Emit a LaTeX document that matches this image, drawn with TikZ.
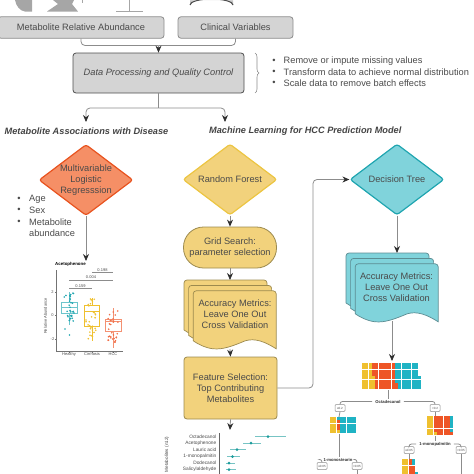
\documentclass[tikz,border=0pt]{standalone}
\usepackage{fontspec}
\setmainfont{Liberation Sans}
\usepackage{xcolor}
\usetikzlibrary{arrows.meta,calc,shapes.geometric,decorations.pathreplacing}
\definecolor{txtgray}{HTML}{4A4A4A}
\definecolor{linegray}{HTML}{8C8C8C}
\definecolor{boxgray}{HTML}{D4D4D4}
\definecolor{headdark}{HTML}{2F2F2F}
\definecolor{lrfill}{HTML}{F58F66}
\definecolor{lrdraw}{HTML}{E8531F}
\definecolor{rffill}{HTML}{F2D27C}
\definecolor{rfdraw}{HTML}{ECC542}
\definecolor{rfedge}{HTML}{9C8A4E}
\definecolor{dtfill}{HTML}{80D3DB}
\definecolor{dtdraw}{HTML}{1FA5B0}
\definecolor{dtedge}{HTML}{5C8C92}
\definecolor{wafyel}{HTML}{EFC02F}
\definecolor{wafred}{HTML}{EE5526}
\definecolor{wafteal}{HTML}{1FB3C4}
\definecolor{dotteal}{HTML}{1C9C9C}

% waffle block: left, top, rows, yellow, red, teal cells
\newcommand{\waffle}[6]{%
  \pgfmathtruncatemacro\waftotal{#4+#5+#6}
  \foreach \n in {1,...,\waftotal}{
    \pgfmathtruncatemacro\wafcol{int((\n-1)/#3)}
    \pgfmathtruncatemacro\wafrow{#3-1-mod(\n-1,#3)}
    \pgfmathtruncatemacro\wafa{#4}
    \pgfmathtruncatemacro\wafb{#4+#5}
    \def\wafcolor{wafteal}
    \ifnum\n>\wafb\else\def\wafcolor{wafred}\fi
    \ifnum\n>\wafa\else\def\wafcolor{wafyel}\fi
    \fill[\wafcolor] ({#1+\wafcol*3.3},{#2+\wafrow*3.3}) rectangle ++(3.05,3.05);
  }}
% three stacked sheets with a wavy foot: left, top, fill, edge
\newcommand{\docstack}[4]{%
  \foreach \kx/\ky in {0/0,4.6/5.4,9.2/10.8}{
    \draw[#4,fill=#3,line width=.7pt,rounded corners=3pt]
      ({#1+\kx},{#2+\ky+50}) -- ({#1+\kx},{#2+\ky}) -- ({#1+\kx+83},{#2+\ky})
      [sharp corners] -- ({#1+\kx+83},{#2+\ky+58})
      .. controls ({#1+\kx+72},{#2+\ky+51}) and ({#1+\kx+62},{#2+\ky+47}) .. ({#1+\kx+52},{#2+\ky+50})
      .. controls ({#1+\kx+40},{#2+\ky+55}) and ({#1+\kx+30},{#2+\ky+59}) .. ({#1+\kx+20},{#2+\ky+58})
      .. controls ({#1+\kx+12},{#2+\ky+57}) and ({#1+\kx+6},{#2+\ky+54}) .. ({#1+\kx},{#2+\ky+50});
  }}
% jittered points of one box: centre, top, bottom, colour
\newcommand{\swarm}[4]{%
  \foreach \i in {1,...,30}{
    \fill[#4] ({#1+5*rand},{(#2+#3)/2+(#3-#2)/2*rand}) circle (.9);
  }}

\begin{document}
\begin{tikzpicture}[x=1pt,y=-1pt,
    every node/.style={text=txtgray,font=\fontsize{9.25}{11.2}\selectfont},
    inbox/.style={rectangle,rounded corners=3pt,draw=linegray,fill=boxgray,line width=.8pt,inner sep=0},
    qcbox/.style={rectangle,rounded corners=3pt,draw=headdark!85,fill=boxgray,line width=.8pt,inner sep=0,
                  minimum width=171pt,minimum height=40pt,font=\fontsize{9.25}{11.2}\itshape},
    heading/.style={font=\fontsize{9.2}{11}\bfseries\itshape,text=headdark!90,inner sep=0},
    choice/.style={diamond,rounded corners=2.5pt,line width=1.2pt,inner sep=0,aspect=1.3,
                   minimum width=94pt,minimum height=71pt,align=center},
    stepbox/.style={rectangle,rounded corners=3pt,draw=rfedge,fill=rffill,line width=.8pt,inner sep=0,
                    minimum width=93pt,minimum height=62pt,align=center},
    stadium/.style={rectangle,rounded corners=20pt,draw=rfedge,fill=rffill,line width=.8pt,inner sep=0,
                    minimum width=93pt,minimum height=41pt,align=center},
    conn/.style={draw=linegray,line width=.8pt,rounded corners=4pt},
    arrow/.style={conn,-{Stealth[length=7pt,width=6pt,color=headdark]}},
    plain/.style={align=center,inner sep=0},
    tiny/.style={font=\fontsize{4}{5}\selectfont,inner sep=0,text=txtgray},
    split/.style={font=\fontsize{4.2}{5}\bfseries,inner ysep=.6pt,inner xsep=3pt,fill=white,text=headdark},
    cond/.style={rectangle,rounded corners=1pt,draw=linegray,fill=white,line width=.5pt,inner sep=0,
                 minimum width=10pt,minimum height=7pt,font=\fontsize{3}{4}\selectfont},
    thin/.style={draw=linegray,line width=.8pt,rounded corners=2.5pt},
  ]
  \useasboundingbox (0,0) rectangle (474,474);
  \clip (0,0) rectangle (474,474);

  % source icons, cut by the top edge
  \fill[black!35] (15,0) .. controls (16,6) and (20,11) .. (25,11.5) -- (32,11.5) -- (32,0) -- cycle;
  \fill[black!35] (53,0) -- (58,4) -- (47,11.5) -- (78,11.5) -- (72,4) -- (74,0) -- cycle;
  \draw[black!35,line width=.8pt] (82,0) -- (82,3);
  \draw[black!35,line width=.8pt] (129,0) -- (129,11.5) (116,11.5) -- (143,11.5);
  \shade[top color=black!12,bottom color=black!45] (190,0) -- (190,5) arc[start angle=180,end angle=360,x radius=21.5,y radius=6] -- (233,0) -- cycle;
  \draw[black!70,line width=1pt] (190,5) arc[start angle=180,end angle=360,x radius=21.5,y radius=6];

  % inputs and processing
  \node[inbox,minimum width=166pt,minimum height=21.5pt] (abund) at (81,27.5) {Metabolite Relative Abundance};
  \node[inbox,minimum width=115pt,minimum height=21.5pt] (clinvar) at (235.5,27.5) {Clinical Variables};
  \node[qcbox] (dpqc) at (158.5,73) {Data Processing and Quality Control};
  \coordinate (merge) at (158.5,45.5);
  \draw[conn] (abund.south) |- (merge);
  \draw[conn] (clinvar.south) |- (merge);
  \draw[arrow] (merge) -- (dpqc.north);

  \coordinate (bracea) at (255,53);
  \coordinate (braceb) at (255,93);
  \draw[linegray,line width=.6pt,decorate,decoration={brace,amplitude=4pt}] (bracea) -- (braceb);
  \foreach \y/\txt [count=\c] in {61/Remove or impute missing values,72/Transform data to achieve normal distribution,83/Scale data to remove batch effects}{
    \node[inner sep=0] (qcdot\c) at (274,\y) {•};
    \node[anchor=west,inner sep=0] (qcitem\c) at (283.5,\y) {\txt};
  }

  \node[heading,anchor=west] (assoc) at (4.5,131) {Metabolite Associations with Disease};
  \node[heading,anchor=west] (mlhead) at (209,131) {Machine Learning for HCC Prediction Model};

  % left column
  \node[choice,draw=lrdraw,fill=lrfill] (logreg) at (86,180) {Multivariable\\Logistic\\Regresssion};
  \coordinate (splitq) at (158.5,108);
  \draw[conn] (dpqc.south) -- (splitq);
  \draw[arrow] (splitq) -| (86,122);
  \draw[arrow] (splitq) -| (225,122);

  \foreach \y/\txt [count=\c] in {199/Age,210/Sex,222/Metabolite}{
    \node[inner sep=0] (covdot\c) at (19,\y) {•};
    \node[anchor=west,inner sep=0] (cov\c) at (29,\y) {\txt};
  }
  \node[anchor=west,inner sep=0] (cov4) at (29,233) {abundance};

  \coordinate (plotin) at (86,261);
  \draw[arrow] (logreg.south) -- (plotin);

  % box plot
  \node[tiny,font=\fontsize{4.4}{5}\bfseries,text=black] (boxtitle) at (70.5,264.5) {Acetophenone};
  \draw[black!55,line width=.6pt] (56.5,270) -- (56.5,351) -- (123,351);
  \foreach \y/\lab in {292/2,315/0,339/-2}{
    \draw[black!55,line width=.4pt] (55,\y) -- (56.5,\y);
    \node[tiny] (ytick\lab) at (52.5,\y) {\lab};
  }
  \node[tiny,rotate=90] (ylab) at (45.5,316) {Relative Abundance};
  \foreach \x/\lab in {69/Healthy,92/Cirrhosis,113/HCC}{
    \draw[black!55,line width=.4pt] (\x,351) -- (\x,352.5);
    \node[tiny] (xtick\lab) at (\x,354.5) {\lab};
  }
  \pgfmathsetseed{11}
  \draw[dtdraw!65,line width=.4pt] (61.5,302) rectangle (77,313) (61.5,307) -- (77,307) (69,292) -- (69,302) (69,313) -- (69,325);
  \swarm{69}{292}{323}{dtdraw}
  \fill[dtdraw] (65,329) circle (.9) (69.5,335) circle (.9);
  \draw[wafyel,line width=.4pt] (84,305.5) rectangle (99,326) (84,311) -- (99,311) (92,298) -- (92,305.5) (92,326) -- (92,341);
  \swarm{91}{299}{340}{wafyel}
  \draw[wafred!65,line width=.4pt] (105,319) rectangle (121,331) (105,321) -- (121,321) (113,308) -- (113,319) (113,331) -- (113,348);
  \swarm{113}{310}{346}{wafred!85}
  \foreach \ya/\xa/\xb/\lab in {288.5/69/92/0.159,280/69/113/0.004,272.5/92/113/0.198}{
    \draw[black!45,line width=.4pt] (\xa,\ya) -- (\xb,\ya);
    \node[tiny,fill=white,inner sep=.3pt] (pval\lab) at ({(\xa+\xb)/2},{\ya-2.4}) {\lab};
  }

  % random forest column
  \node[choice,draw=rfdraw,fill=rffill] (rforest) at (230,179.5) {Random Forest};
  \node[stadium] (grid) at (230,247.5) {Grid Search:\\parameter selection};
  \draw[arrow] (rforest.south) -- (grid.north);
  \docstack{184}{280}{rffill}{rfedge}
  \node[plain] (rfacc) at (235,314) {Accuracy Metrics:\\Leave One Out\\Cross Validation};
  \coordinate (rfdocin) at (230,280);
  \coordinate (rfdocout) at (230,349);
  \draw[arrow] (grid.south) -- (rfdocin);
  \node[stepbox] (feature) at (230.5,388) {Feature Selection:\\Top Contributing\\Metabolites};
  \draw[arrow] (rfdocout) -- (feature.north);
  \coordinate (forestin) at (230,430);
  \draw[arrow] (feature.south) -- (forestin);

  % decision tree column
  \node[choice,draw=dtdraw,fill=dtfill] (dtree) at (397,179.5) {Decision Tree};
  \draw[arrow] (feature.east) -| (313,250) |- (dtree.west);
  \docstack{346}{253}{dtfill}{dtedge}
  \node[plain] (dtacc) at (396.5,287) {Accuracy Metrics:\\Leave One Out\\Cross Validation};
  \coordinate (dtdocin) at (397,253);
  \coordinate (dtdocout) at (392,321);
  \draw[arrow] (dtree.south) -- (dtdocin);
  \coordinate (wafin) at (392,361);
  \draw[arrow] (dtdocout) -- (wafin);

  % forest plot of selected metabolites
  \draw[black!60,line width=.6pt] (219,433) -- (219,474);
  \node[tiny,font=\fontsize{4.6}{6}\selectfont,rotate=90,anchor=east] (forestlab) at (167,436.5) {Metabolites (n12)};
  \foreach \y/\lab/\xp/\xa/\xb [count=\c] in {436.5/Octadecanol/268/255/286,443/Acetophenone/251/243/261,449.7/Lauric acid/237/230/246,456.5/1-monopalmitin/232.5/227/240,463/Dodecanol/229/226/235,469.7/Salicylaldehyde/229/226/236}{
    \node[tiny,font=\fontsize{4.8}{6}\selectfont,anchor=east] (met\c) at (216.5,\y) {\lab};
    \draw[dotteal!60,line width=.5pt] (\xa,\y) -- (\xb,\y);
    \fill[dotteal] (\xp,\y) circle (1.5);
  }

  % decision tree plot
  \waffle{362}{363}{8}{28}{54}{58}
  \node[split] (octa) at (388,401.5) {Octadecanol};
  \node[cond] (condl) at (340,408) {≤0.2};
  \node[cond] (condr) at (435,408) {>0.2};
  \draw[thin] (388,390) -- (octa.north);
  \draw[thin] (octa.west) -| (condl.north);
  \draw[thin] (octa.east) -| (condr.north);

  \waffle{330}{417}{5}{11}{3}{26}
  \node[split] (mstea) at (338,459.5) {1-monostearin};
  \draw[thin] (condl.south) -- (339,417);
  \draw[thin] (339,434) -- (mstea.north -| 339,434);
  \node[cond] (condll) at (322,466) {≤0.05};
  \node[cond] (condlr) at (357,466) {>0.05};
  \draw[thin] (mstea.west) -| (condll.north);
  \draw[thin] (mstea.east) -| (condlr.north);
  \coordinate (endlr) at (357,474);
  \draw[thin] (condlr.south) -- (endlr);

  \waffle{427}{415.5}{6}{13}{30}{5}
  \node[split] (mpalm) at (435,444) {1-monopalmitin};
  \draw[thin] (condr.south) -- (435,415.5);
  \draw[thin] (435,436) -- (mpalm.north);
  \node[cond] (condrl) at (409,450) {≤0.05};
  \node[cond] (condrr) at (461,450) {>0.05};
  \draw[thin] (mpalm.west) -| (condrl.north);
  \draw[thin] (mpalm.east) -| (condrr.north);
  \coordinate (endrr) at (461,474);
  \draw[thin] (condrr.south) -- (endrr);
  \waffle{402}{459}{5}{10}{8}{3}
  \draw[thin] (condrl.south) -- (409,459);
\end{tikzpicture}
\end{document}
